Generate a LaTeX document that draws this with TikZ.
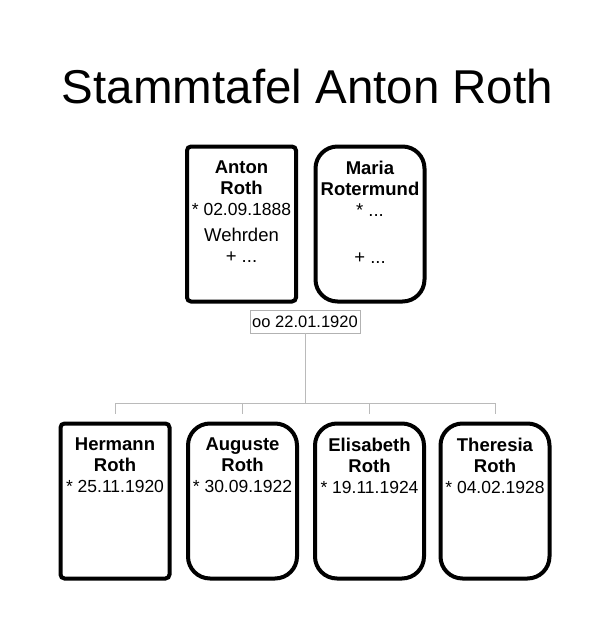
\documentclass[tikz,border=0pt]{standalone}
\usepackage{fontspec}
\setmainfont{Liberation Sans}
\usetikzlibrary{calc}
\newcommand{\dt}[1]{{\fontsize{17.5}{21}\selectfont #1}}
\begin{document}
\begin{tikzpicture}[x=1pt,y=-1pt,
  boxbase/.style={draw=black, line width=4pt, minimum width=109pt, minimum height=155pt, inner sep=0pt, fill=white},
  squarebox/.style={boxbase, rounded corners=4pt},
  roundbox/.style={boxbase, rounded corners=22pt},
  txt/.style={inner sep=0pt, align=center, font=\fontsize{18.5}{21}\selectfont, anchor=north},
  conn/.style={draw=black!27, line width=1pt},
  marrbox/.style={draw=black!30, line width=0.9pt, minimum width=110pt, minimum height=23pt, inner sep=0pt, font=\fontsize{16.5}{20}\selectfont}
]
\useasboundingbox (0,0) rectangle (612,640);
\fill[white] (0,0) rectangle (612,640);

\node[inner sep=0pt, anchor=base, font=\fontsize{47.5}{55}\selectfont] (title) at (307.5,103) {Stammtafel Anton Roth};

% parents
\node[squarebox] (anton) at (241.5,224) {};
\node[roundbox] (maria) at (370,224) {};
\node[txt] (antontxt) at (241.5,161) {\textbf{Anton}\\\textbf{Roth}\\\dt{* 02.09.1888}\\[5pt]Wehrden\\+ ...};
\node[txt] (mariatxt) at (370,161) {\textbf{Maria}\\\textbf{Rotermund}\\* ...\\[26pt]+ ...};

% marriage
\node[marrbox] (marr) at (305,321.5) {oo 22.01.1920};

% children
\node[squarebox] (hermann) at (115,501) {};
\node[roundbox] (auguste) at (242.5,501) {};
\node[roundbox] (elisabeth) at (369.5,501) {};
\node[roundbox] (theresia) at (495,501) {};
\node[txt] (hermanntxt) at (115,438) {\textbf{Hermann}\\\textbf{Roth}\\\dt{* 25.11.1920}};
\node[txt] (augustetxt) at (242.5,438) {\textbf{Auguste}\\\textbf{Roth}\\\dt{* 30.09.1922}};
\node[txt] (elisabethtxt) at (369.5,438) {\textbf{Elisabeth}\\\textbf{Roth}\\\dt{* 19.11.1924}};
\node[txt] (theresiatxt) at (495,438) {\textbf{Theresia}\\\textbf{Roth}\\\dt{* 04.02.1928}};

% connectors
\coordinate (bar) at (305,403);
\draw[conn] (marr.south) -- (bar);
\draw[conn] (hermann.north |- bar) -- (theresia.north |- bar);
\foreach \c in {hermann,auguste,elisabeth,theresia}{
  \draw[conn] (\c.north |- bar) -- ([yshift=8pt]\c.north);
}
\end{tikzpicture}
\end{document}
